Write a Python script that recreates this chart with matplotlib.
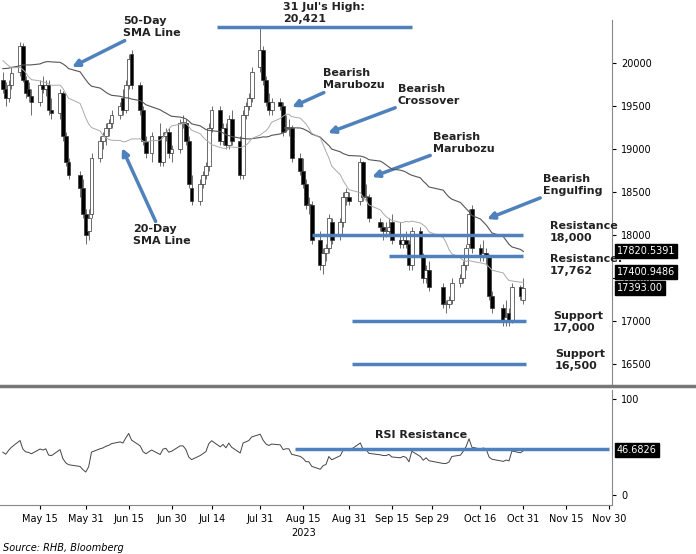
import numpy as np
import pandas as pd
import matplotlib
matplotlib.use('Agg')
import matplotlib.pyplot as plt
import matplotlib.dates as mdates

# daily OHLC, "MM-DD open high low close"
rows = """
05-02 19800 19900 19650 19700
05-03 19700 19780 19500 19600
05-04 19600 19800 19550 19750
05-05 19750 19950 19700 19880
05-08 19900 20250 19850 20200
05-09 20200 20230 19780 19800
05-10 19800 19850 19600 19650
05-11 19700 19780 19550 19620
05-12 19620 19700 19400 19550
05-15 19550 19800 19500 19750
05-16 19750 19850 19650 19700
05-17 19700 19800 19620 19750
05-18 19750 19800 19400 19450
05-19 19450 19600 19350 19420
05-22 19420 19700 19350 19650
05-23 19650 19680 19100 19150
05-24 19150 19200 18800 18850
05-25 18850 18900 18650 18700
05-29 18700 18750 18450 18550
05-30 18550 18650 18200 18250
05-31 18250 18300 17900 18000
06-01 18050 18300 17950 18200
06-02 18250 18950 18200 18900
06-05 18900 19150 18850 19100
06-06 19100 19200 19000 19150
06-07 19150 19300 19050 19250
06-08 19250 19350 19150 19300
06-09 19300 19450 19250 19400
06-12 19400 19550 19350 19500
06-13 19600 19700 19400 19450
06-14 19450 19800 19420 19750
06-15 19750 20100 19700 20050
06-16 20100 20150 19700 19750
06-19 19750 19780 19400 19450
06-20 19450 19500 19050 19100
06-21 19100 19150 18900 18950
06-23 18950 19200 18850 19150
06-26 19150 19300 18800 18850
06-27 18850 19200 18800 19150
06-28 19150 19250 19100 19200
06-29 19200 19250 18900 18950
06-30 18950 19050 18850 19000
07-03 19000 19350 18950 19300
07-04 19300 19400 19250 19300
07-05 19300 19350 19050 19100
07-06 19100 19150 18550 18600
07-07 18550 18700 18350 18400
07-10 18400 18650 18350 18600
07-11 18600 18750 18550 18700
07-12 18700 18850 18650 18800
07-13 18800 19300 18750 19250
07-14 19250 19500 19200 19450
07-17 19450 19500 19050 19100
07-18 19100 19300 19050 19250
07-19 19250 19300 19000 19050
07-20 19050 19400 19000 19350
07-21 19350 19450 19050 19100
07-24 19100 19150 18650 18700
07-25 18700 19450 18650 19400
07-26 19400 19550 19350 19500
07-27 19500 19650 19450 19600
07-28 19600 19950 19550 19900
07-31 19950 20421 19900 20150
08-01 20150 20200 19750 19800
08-02 19800 19850 19500 19550
08-03 19550 19650 19400 19450
08-04 19450 19600 19400 19550
08-07 19550 19600 19450 19500
08-08 19500 19550 19150 19200
08-09 19250 19400 19200 19250
08-10 19250 19350 19150 19250
08-11 19250 19280 18850 18900
08-14 18900 18950 18700 18750
08-15 18750 18900 18550 18600
08-16 18600 18650 18300 18350
08-17 18350 18450 18250 18350
08-18 18350 18400 17900 17950
08-21 17950 18050 17600 17650
08-22 17650 17850 17550 17800
08-23 17800 17900 17700 17850
08-24 17850 18250 17800 18200
08-25 18150 18200 17900 17950
08-28 18000 18200 17950 18150
08-29 18150 18500 18100 18450
08-30 18450 18550 18350 18500
08-31 18450 18500 18350 18400
09-04 18400 18900 18350 18850
09-05 18850 18860 18400 18450
09-06 18450 18600 18400 18450
09-07 18450 18480 18150 18200
09-11 18150 18200 18050 18100
09-12 18100 18150 17950 18050
09-13 18050 18150 17980 18050
09-14 18050 18200 18000 18100
09-15 18150 18250 17900 17950
09-18 17950 18150 17850 17900
09-19 17900 18000 17850 17950
09-20 17950 18050 17850 17900
09-21 17900 17950 17600 17650
09-22 17650 18100 17600 18050
09-25 18050 18100 17750 17750
09-26 17750 17800 17450 17500
09-27 17500 17650 17450 17600
09-28 17600 17700 17350 17400
10-03 17400 17450 17150 17200
10-04 17200 17250 17100 17200
10-05 17200 17300 17150 17250
10-06 17250 17500 17200 17450
10-09 17450 17550 17400 17500
10-10 17500 17700 17450 17650
10-11 17650 17900 17600 17850
10-12 17900 18300 17850 18250
10-13 18300 18350 17800 17850
10-16 17850 17900 17700 17750
10-17 17750 17950 17700 17800
10-18 17800 17850 17650 17750
10-19 17750 17780 17250 17300
10-20 17300 17350 17100 17150
10-24 17150 17200 16950 17000
10-25 17000 17250 16950 17050
10-26 17100 17150 16950 17000
10-27 17000 17450 16980 17400
10-30 17400 17420 17250 17300
10-31 17250 17500 17200 17393
"""
# closes before May, only used to seed the moving averages and RSI
pre_close = [19500, 19600, 19400, 19300, 19250, 19700, 19600, 19500, 19200, 19000,
             19250, 19300, 19600, 19900, 20050, 20000, 20300, 20400, 20600, 20300,
             20350, 20450, 20200, 20300, 20500, 20300, 20200, 20050, 19950, 20150,
             20200, 20300, 20400, 20100, 20300, 20350, 20600, 20200, 20050, 19950,
             19850, 19800, 19750, 19600, 19900, 20050, 19800, 19750, 19900]

tick_dates = ['2023-05-15', '2023-05-31', '2023-06-15', '2023-06-30', '2023-07-14',
              '2023-07-31', '2023-08-15', '2023-08-31', '2023-09-15', '2023-09-29',
              '2023-10-16', '2023-10-31', '2023-11-15', '2023-11-30']
tick_labels = ['May 15', 'May 31', 'Jun 15', 'Jun 30', 'Jul 14', 'Jul 31', 'Aug 15',
               'Aug 31', 'Sep 15', 'Sep 29', 'Oct 16', 'Oct 31', 'Nov 15', 'Nov 30']

recs = [r.split() for r in rows.strip().splitlines()]
dates = pd.to_datetime(['2023-' + r[0] for r in recs])
o = np.array([float(r[1]) for r in recs])
h = np.array([float(r[2]) for r in recs])
l = np.array([float(r[3]) for r in recs])
c = np.array([float(r[4]) for r in recs])
n = len(c)

allc = pd.Series(pre_close + list(c))
sma20 = allc.rolling(20).mean().values[-n:]
sma50 = allc.rolling(50).mean().values[-n:]
d = allc.diff()
up = d.clip(lower=0).ewm(alpha=1/14, adjust=False).mean()
dn = (-d.clip(upper=0)).ewm(alpha=1/14, adjust=False).mean()
rsi = (100 - 100 / (1 + up / dn)).values[-n:]

x = mdates.date2num(dates)
blue = '#4f81bd'

fig = plt.figure(figsize=(6.96, 5.54), dpi=100)
ax = fig.add_axes([0, 168/554, 612/696, 366/554])
ax2 = fig.add_axes([0, 49/554, 612/696, 115/554])

for i in range(n):
    col = 'black' if c[i] < o[i] else 'white'
    ax.vlines(x[i], l[i], h[i], color='#555555', lw=0.6, zorder=2)
    ax.bar(x[i], abs(c[i] - o[i]) or 10, bottom=min(o[i], c[i]), width=1.3,
           color=col, edgecolor='#333333', lw=0.5, zorder=3)
ax.plot(x, sma50, color='#555555', lw=0.8, zorder=4)
ax.plot(x, sma20, color='#aaaaaa', lw=0.7, zorder=4)

xmin = mdates.date2num(pd.Timestamp('2023-05-01'))
xmax = mdates.date2num(pd.Timestamp('2023-12-01'))
ax.set_xlim(xmin, xmax)
ax.set_ylim(16250, 20500)
ax.yaxis.tick_right()
ax.set_yticks(range(16500, 20001, 500))
ax.tick_params(axis='y', labelsize=7, length=3, direction='out')
ax.set_xticks([])
for s in ['left', 'top', 'bottom']:
    ax.spines[s].set_visible(False)
ax.spines['right'].set_color('#888888')

def hl(y, d1, d2):
    ax.hlines(y, mdates.date2num(pd.Timestamp(d1)), mdates.date2num(pd.Timestamp(d2)),
              color=blue, lw=2.5, zorder=5)

hl(20421, '2023-07-16', '2023-09-22')
hl(18000, '2023-08-18', '2023-10-31')
hl(17762, '2023-09-14', '2023-10-31')
hl(17000, '2023-09-01', '2023-11-01')
hl(16500, '2023-09-01', '2023-11-01')

def fp(px, py):
    return (px, 554 - py)

tkw = dict(xycoords='figure pixels', textcoords='figure pixels', fontsize=8,
           fontweight='bold', color='#222222')
def note(txt, tpos, apos=None, ha='left'):
    if apos is None:
        ax.annotate(txt, xy=fp(*tpos), xytext=fp(*tpos), ha=ha, va='center', **tkw)
    else:
        ax.annotate(txt, xy=fp(*apos), xytext=fp(*tpos), ha=ha, va='center',
                    arrowprops=dict(arrowstyle='-|>', color=blue, lw=2.5, mutation_scale=10,
                                    shrinkA=0, shrinkB=0), **tkw)

note('50-Day\nSMA Line', (123, 27), (72, 67))
note('20-Day\nSMA Line', (133, 235), (122, 148))
note("31 Jul's High:\n20,421", (283, 13))
note('Bearish\nMarubozu', (323, 79), (292, 107))
note('Bearish\nCrossover', (398, 95), (328, 133))
note('Bearish\nMarubozu', (433, 143), (372, 177))
note('Bearish\nEngulfing', (543, 185), (487, 219))
note('Resistance\n18,000', (550, 232))
note('Resistance:\n17,762', (550, 265))
note('Support\n17,000', (553, 322))
note('Support\n16,500', (555, 360))

def tag(a, y, txt, z=6):
    a.text(1.008, y, txt, transform=a.get_yaxis_transform(), fontsize=7, color='white',
           va='center', ha='left', zorder=z, clip_on=False,
           bbox=dict(boxstyle='square,pad=0.2', fc='black', ec='black'))

tag(ax, 17820.5391, '17820.5391')
tag(ax, 17400.9486 + 170, '17400.9486', z=6)
tag(ax, 17393, '17393.00', z=7)

# separator between panels
fig.add_artist(plt.Line2D([0, 1], [168/554, 168/554], color='#777777', lw=2.5))

ax2.plot(x, rsi, color='#444444', lw=0.7)
ax2.hlines(48, mdates.date2num(pd.Timestamp('2023-08-12')),
           mdates.date2num(pd.Timestamp('2023-11-30')), color=blue, lw=2.5)
ax2.annotate('RSI Resistance', xy=fp(375, 435), xytext=fp(375, 435), ha='left', va='center', **tkw)
ax2.set_xlim(xmin, xmax)
ax2.set_ylim(-10, 109)
ax2.yaxis.tick_right()
ax2.set_yticks([0, 100])
ax2.tick_params(axis='y', labelsize=7, length=3)
tag(ax2, 46.6826, '46.6826')
ax2.set_xticks(mdates.date2num(pd.to_datetime(tick_dates)))
ax2.set_xticklabels(tick_labels, fontsize=7)
ax2.tick_params(axis='x', length=3)
ax2.spines['left'].set_visible(False)
ax2.spines['top'].set_visible(False)
ax2.spines['right'].set_color('#888888')
ax2.spines['bottom'].set_color('#888888')
ax2.text(mdates.date2num(pd.Timestamp('2023-08-15')), -0.27, '2023', fontsize=7,
         ha='center', transform=ax2.get_xaxis_transform())

fig.text(3 / 696, 1 - 548 / 554, 'Source: RHB, Bloomberg', fontsize=7, style='italic',
         va='center')

fig.savefig('out.png', dpi=100)
